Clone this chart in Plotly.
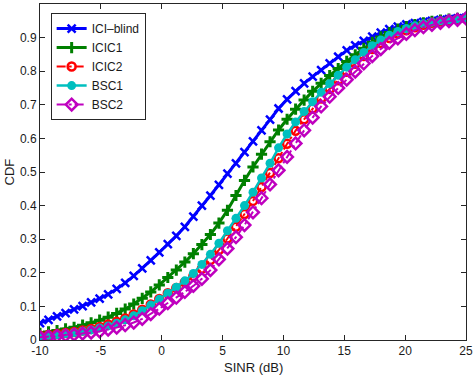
import plotly.graph_objects as go

sinr_db = [-10.0, -9.3, -8.6, -7.9, -7.2, -6.5, -5.8, -5.1, -4.4, -3.7, -3.0, -2.3, -1.6, -0.9, -0.2,
           0.5, 1.2, 1.9, 2.6, 3.3, 4.0, 4.7, 5.4, 6.1, 6.8, 7.5, 8.2, 8.9, 9.6, 10.3, 11.0, 11.7,
           12.4, 13.1, 13.8, 14.5, 15.2, 15.9, 16.6, 17.3, 18.0, 18.7, 19.4, 20.1, 20.8, 21.5, 22.2,
           22.9, 23.6, 24.3, 25.0]

ici_blind = [0.050, 0.060, 0.070, 0.080, 0.091, 0.101, 0.112, 0.123, 0.136, 0.152, 0.170, 0.191, 0.213,
             0.237, 0.261, 0.285, 0.310, 0.337, 0.367, 0.400, 0.430, 0.462, 0.495, 0.526, 0.559, 0.591,
             0.624, 0.656, 0.689, 0.716, 0.741, 0.764, 0.784, 0.803, 0.823, 0.843, 0.862, 0.877, 0.890,
             0.903, 0.915, 0.925, 0.933, 0.939, 0.943, 0.947, 0.950, 0.953, 0.955, 0.957, 0.959]

icic1 = [0.020, 0.024, 0.028, 0.033, 0.038, 0.044, 0.051, 0.059, 0.068, 0.079, 0.092, 0.107, 0.124,
         0.143, 0.164, 0.186, 0.208, 0.232, 0.257, 0.284, 0.314, 0.348, 0.386, 0.430, 0.475, 0.515,
         0.553, 0.590, 0.625, 0.657, 0.687, 0.714, 0.740, 0.764, 0.787, 0.808, 0.829, 0.849, 0.868,
         0.886, 0.902, 0.915, 0.925, 0.933, 0.939, 0.944, 0.948, 0.952, 0.955, 0.957, 0.959]

icic2 = [0.013, 0.015, 0.018, 0.021, 0.024, 0.028, 0.033, 0.039, 0.046, 0.054, 0.064, 0.076, 0.090,
         0.106, 0.122, 0.139, 0.155, 0.172, 0.190, 0.212, 0.238, 0.268, 0.302, 0.337, 0.375, 0.414,
         0.455, 0.497, 0.541, 0.584, 0.623, 0.657, 0.689, 0.719, 0.747, 0.773, 0.798, 0.822, 0.845,
         0.866, 0.884, 0.899, 0.912, 0.922, 0.931, 0.938, 0.944, 0.948, 0.952, 0.955, 0.957]

bsc1 = [0.012, 0.014, 0.016, 0.019, 0.022, 0.026, 0.030, 0.036, 0.042, 0.050, 0.060, 0.072, 0.087,
        0.104, 0.121, 0.139, 0.157, 0.176, 0.198, 0.225, 0.255, 0.288, 0.325, 0.362, 0.400, 0.440,
        0.482, 0.526, 0.572, 0.613, 0.649, 0.680, 0.709, 0.737, 0.763, 0.788, 0.812, 0.834, 0.856,
        0.876, 0.893, 0.907, 0.918, 0.927, 0.935, 0.941, 0.946, 0.950, 0.953, 0.956, 0.958]

bsc2 = [0.008, 0.010, 0.012, 0.014, 0.016, 0.019, 0.022, 0.026, 0.031, 0.037, 0.044, 0.052, 0.063,
        0.077, 0.093, 0.110, 0.126, 0.143, 0.161, 0.182, 0.208, 0.240, 0.272, 0.306, 0.342, 0.380,
        0.422, 0.463, 0.505, 0.545, 0.585, 0.624, 0.662, 0.695, 0.724, 0.750, 0.775, 0.799, 0.823,
        0.845, 0.866, 0.884, 0.898, 0.911, 0.922, 0.931, 0.938, 0.944, 0.949, 0.953, 0.957]

x_ticks = [-10, -5, 0, 5, 10, 15, 20, 25]
y_ticks = [0, 0.1, 0.2, 0.3, 0.4, 0.5, 0.6, 0.7, 0.8, 0.9, 1]
y_tick_text = ["0", "0.1", "0.2", "0.3", "0.4", "0.5", "0.6", "0.7", "0.8", "0.9", "1"]

FONT = "Liberation Sans, Arial, sans-serif"

fig = go.Figure()

def add(name, y, color, dash, symbol, size, lw, mlw, fill=None):
    fig.add_trace(go.Scatter(
        x=sinr_db, y=y, name=name, mode="lines+markers",
        line=dict(color=color, width=lw, dash=dash),
        marker=dict(symbol=symbol, size=size, color=fill if fill else color,
                    line=dict(color=color, width=mlw)),
    ))

add("ICI\u2013blind", ici_blind, "#0000ff", "solid", "x-thin", 8, 3, 2.5)
add("ICIC1", icic1, "#008000", "solid", "cross-thin", 8, 3, 3)
add("ICIC2", icic2, "#ff0000", "dashdot", "circle-open", 8, 2, 2.5)
add("BSC1", bsc1, "#00bfbf", "solid", "circle", 9, 2.5, 0)
add("BSC2", bsc2, "#bf00bf", "dashdot", "diamond-open", 9, 2, 2.5)

axis_common = dict(
    showline=True, linecolor="#262626", linewidth=1, mirror="allticks",
    ticks="inside", ticklen=5, tickwidth=1, tickcolor="#262626",
    showgrid=False, zeroline=False, automargin=False,
    tickfont=dict(family=FONT, size=12, color="#1a1a1a"),
)

fig.update_layout(
    width=474, height=375,
    margin=dict(l=40, r=8, t=4, b=35),
    paper_bgcolor="white", plot_bgcolor="white",
    font=dict(family=FONT, size=12, color="#1a1a1a"),
    xaxis=dict(range=[-10, 25], tickvals=x_ticks, ticktext=[str(v) for v in x_ticks],
               **axis_common),
    yaxis=dict(range=[0, 1], tickvals=y_ticks, ticktext=y_tick_text,
               **axis_common),
    legend=dict(x=0.025, y=0.973, xanchor="left", yanchor="top",
                bgcolor="white", bordercolor="#262626", borderwidth=1,
                font=dict(family=FONT, size=12, color="#1a1a1a"),
                tracegroupgap=0, itemwidth=30),
    showlegend=True,
    hovermode=False,
    annotations=[
        dict(text="SINR (dB)", xref="paper", yref="paper", x=0.5, y=0, yshift=-27,
             xanchor="center", yanchor="middle", showarrow=False,
             font=dict(family=FONT, size=13, color="#1a1a1a")),
        dict(text="CDF", xref="paper", yref="paper", x=0, y=0.5, xshift=-41,
             xanchor="left", yanchor="middle", textangle=-90, showarrow=False,
             font=dict(family=FONT, size=13, color="#1a1a1a")),
    ],
)

fig.write_html("out.html", config={"displayModeBar": False},
               post_script="document.body.style.margin='0';document.body.style.overflow='hidden';")
